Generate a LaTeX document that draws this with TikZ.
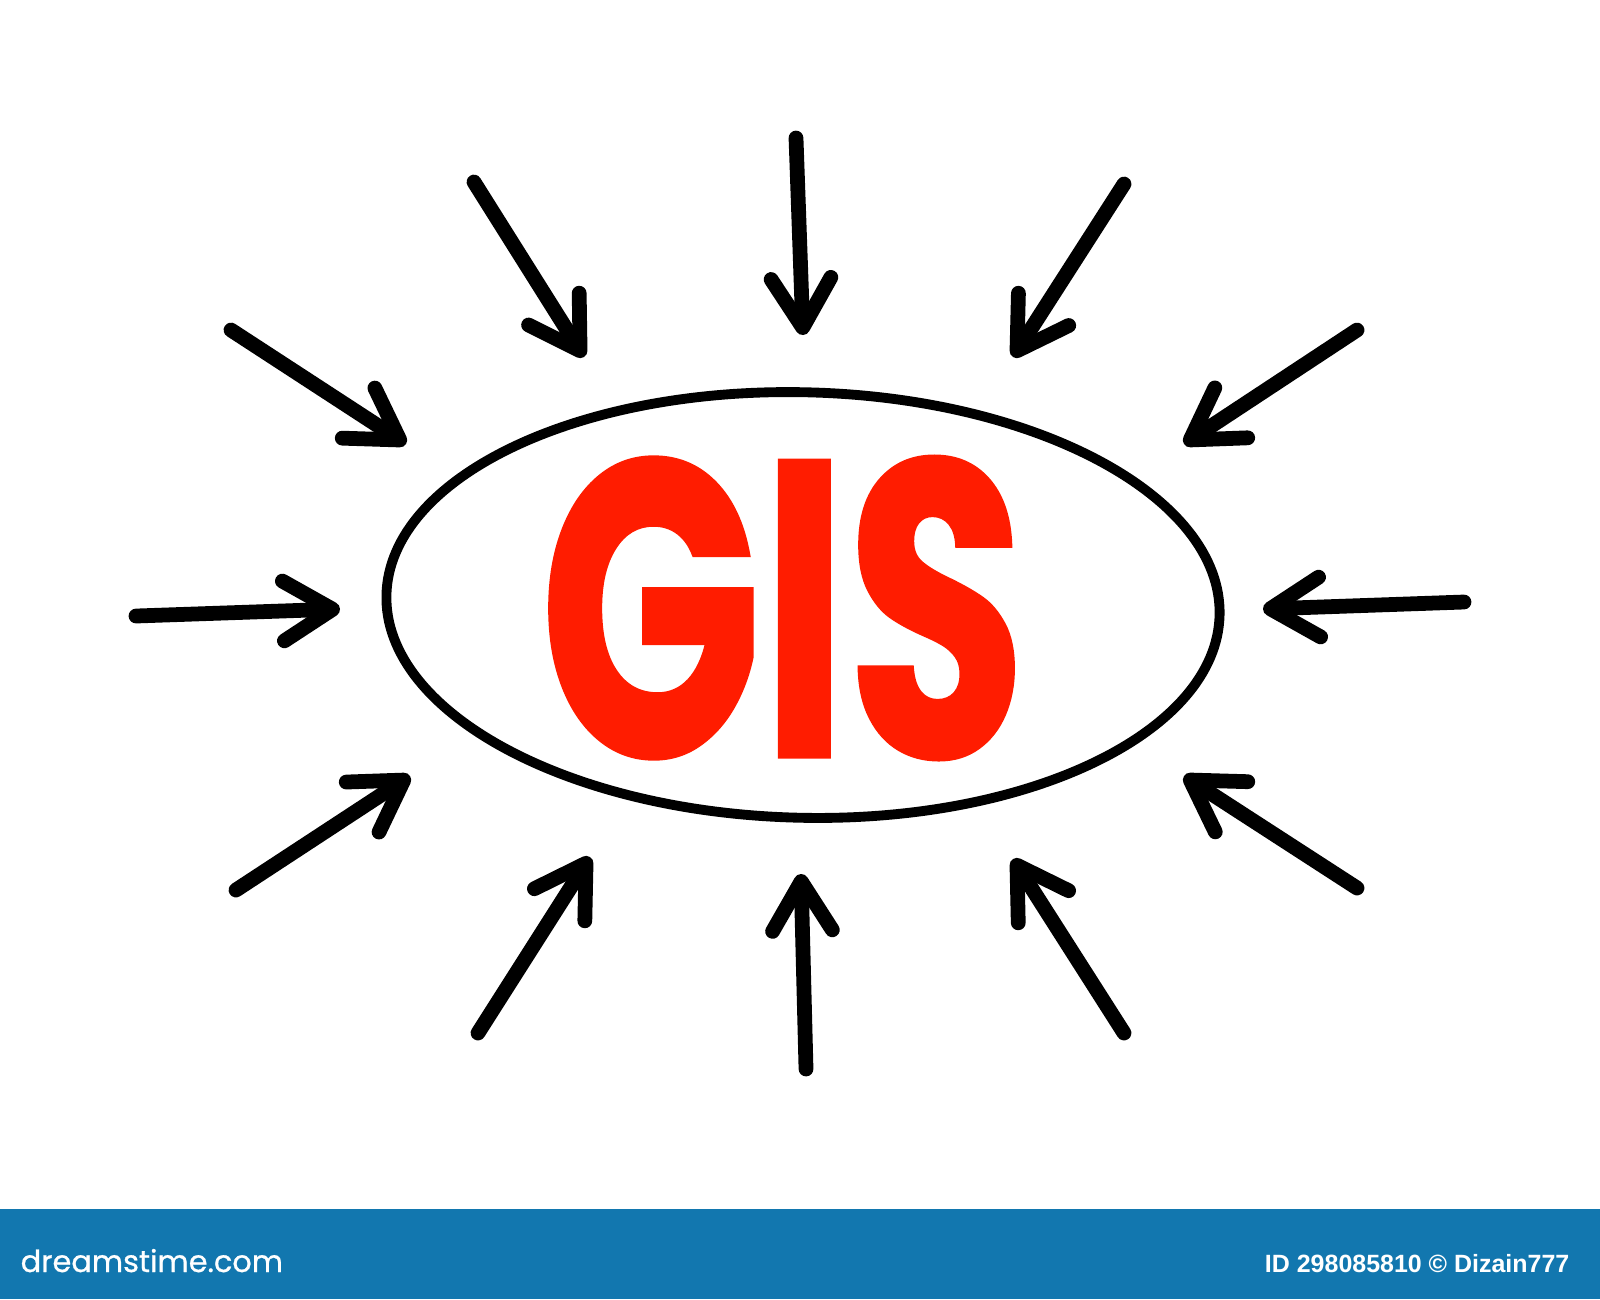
\documentclass[tikz,border=0pt]{standalone}
\usepackage{fontspec}
\usepackage{tikz}
\usetikzlibrary{arrows.meta,shapes.geometric}
\newfontfamily\gisfont{Poppins}[FakeBold=1.2]
\newfontfamily\logofont{Poppins}[FakeBold=0.8]
\newfontfamily\idfont{Liberation Sans}
\definecolor{gisred}{RGB}{255,28,0}
\definecolor{footerblue}{RGB}{18,119,175}

\tikzset{
  inarrow/.style={line width=4.2pt, line cap=round,
    -{Straight Barb[length=14pt,width=17pt,round]}},
  ring/.style={ellipse, draw, line width=2.8pt, inner sep=0pt,
    minimum width=237pt, minimum height=121pt}
}

\begin{document}
\begin{tikzpicture}[x=0.01cm,y=-0.01cm]
\useasboundingbox (0,0) rectangle (1600,1299);

% Ellipse and title
\node[ring, rotate=-1.4] (gis) at (803,605) {};
\node[text=gisred, inner sep=0pt] (gistext) at (783,608)
  {\resizebox{138pt}{85pt}{\gisfont\bfseries GIS}};

% Arrows pointing inwards
\foreach \i/\tx/\ty/\hx/\hy in {1/796/138/803/335, 2/474/182/584/357,
    3/1124/184/1013/357, 4/231/330/406/444, 5/1357/330/1184/444,
    6/136/616/340/609, 7/1464/602/1263/609, 8/236/890/410/776,
    9/1357/888/1184/776, 10/478/1033/590/857, 11/806/1069/801/874,
    12/1124/1033/1013/859} {
    \coordinate (t\i) at (\tx,\ty);
    \coordinate (h\i) at (\hx,\hy);
    \draw[inarrow] (t\i) -- (h\i);
}

% Footer
\fill[footerblue] (0,1209) rectangle (1600,1299);
\node[anchor=base west, inner sep=0pt, text=white] (logo) at (20,1272)
  {\resizebox{74.6pt}{!}{\logofont dreamstime.com}};
\node[anchor=base east, inner sep=0pt, text=white] (imgid) at (1570,1272)
  {\fontsize{7.1pt}{8pt}\idfont\bfseries ID 298085810 © Dizain777};
\end{tikzpicture}
\end{document}
